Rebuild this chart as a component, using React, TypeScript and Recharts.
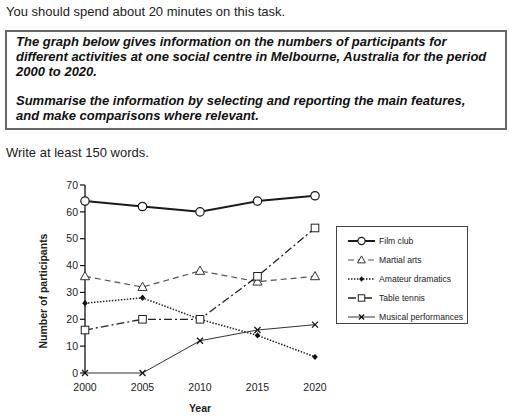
import React from 'react';
import { LineChart, Line, XAxis, YAxis } from 'recharts';

const years = [2000, 2005, 2010, 2015, 2020];
const filmClub = [64, 62, 60, 64, 66];
const martialArts = [36, 32, 38, 34, 36];
const amateurDramatics = [26, 28, 20, 14, 6];
const tableTennis = [16, 20, 20, 36, 54];
const musicalPerformances = [0, 0, 12, 16, 18];
const yTicks = [0, 10, 20, 30, 40, 50, 60, 70];

type Marker = 'circle' | 'triangle' | 'diamond' | 'square' | 'cross';

const series: { key: string; name: string; values: number[]; dash?: string; width: number; color: string; marker: Marker }[] = [
  { key: 'film', name: 'Film club', values: filmClub, width: 2, color: '#1a1a1a', marker: 'circle' },
  { key: 'martial', name: 'Martial arts', values: martialArts, dash: '6 4', width: 1.2, color: '#555', marker: 'triangle' },
  { key: 'drama', name: 'Amateur dramatics', values: amateurDramatics, dash: '1.5 1.5', width: 1.5, color: '#222', marker: 'diamond' },
  { key: 'tennis', name: 'Table tennis', values: tableTennis, dash: '8 3 2 3', width: 1.3, color: '#222', marker: 'square' },
  { key: 'music', name: 'Musical performances', values: musicalPerformances, width: 1, color: '#333', marker: 'cross' },
];

const data = years.map((year, i) => {
  const row: Record<string, number> = { year };
  series.forEach((s) => (row[s.key] = s.values[i]));
  return row;
});

const font = 'Arial, "Liberation Sans", sans-serif';

function drawMarker(type: Marker, cx: number, cy: number, key?: string, scale = 1) {
  const k = scale;
  switch (type) {
    case 'circle':
      return <circle key={key} cx={cx} cy={cy} r={4.2 * k} fill="#fff" stroke="#1a1a1a" strokeWidth={1.2} />;
    case 'triangle':
      return (
        <polygon
          key={key}
          points={`${cx},${cy - 4.8 * k} ${cx - 4.6 * k},${cy + 3.4 * k} ${cx + 4.6 * k},${cy + 3.4 * k}`}
          fill="#fff"
          stroke="#333"
          strokeWidth={1}
        />
      );
    case 'diamond':
      return (
        <polygon
          key={key}
          points={`${cx},${cy - 3.2 * k} ${cx + 2.8 * k},${cy} ${cx},${cy + 3.2 * k} ${cx - 2.8 * k},${cy}`}
          fill="#111"
        />
      );
    case 'square':
      return <rect key={key} x={cx - 3.8 * k} y={cy - 3.8 * k} width={7.6 * k} height={7.6 * k} fill="#fff" stroke="#222" strokeWidth={1} />;
    case 'cross':
      return (
        <g key={key} stroke="#111" strokeWidth={1.3}>
          <line x1={cx - 3 * k} y1={cy - 3 * k} x2={cx + 3 * k} y2={cy + 3 * k} />
          <line x1={cx - 3 * k} y1={cy + 3 * k} x2={cx + 3 * k} y2={cy - 3 * k} />
        </g>
      );
  }
}

const YLabel = (props: any) => {
  const vb = props.viewBox || { x: 0, y: 0, height: 0 };
  const cx = 43;
  const cy = vb.y + vb.height / 2 + 12;
  return (
    <text
      x={cx}
      y={cy}
      transform={`rotate(-90, ${cx}, ${cy})`}
      textAnchor="middle"
      dominantBaseline="central"
      fontFamily={font}
      fontWeight="bold"
      fontSize={10.5}
      fill="#222"
    >
      Number of participants
    </text>
  );
};

const XLabel = (props: any) => {
  const vb = props.viewBox || { x: 0, y: 0, width: 0 };
  return (
    <text x={vb.x + vb.width / 2} y={412} textAnchor="middle" fontFamily={font} fontWeight="bold" fontSize={10.5} fill="#222">
      Year
    </text>
  );
};

const Legend = () => (
  <div
    style={{
      position: 'absolute',
      left: 336,
      top: 226,
      width: 132,
      height: 98,
      border: '1.5px solid #444',
      boxSizing: 'border-box',
      fontFamily: font,
      fontSize: 8.6,
      color: '#222',
    }}
  >
    {series.map((s, i) => (
      <div key={s.key} style={{ position: 'absolute', left: 10, top: 6 + i * 19, height: 16, display: 'flex', alignItems: 'center', whiteSpace: 'nowrap' }}>
        <svg width={29} height={16} style={{ marginRight: 3 }}>
          <line x1={1} y1={8} x2={28} y2={8} stroke={s.color} strokeWidth={s.width} strokeDasharray={s.dash} />
          {drawMarker(s.marker, 14.5, 8, undefined, 0.85)}
        </svg>
        <span>{s.name}</span>
      </div>
    ))}
  </div>
);

export default function App() {
  return (
    <div style={{ position: 'absolute', left: 0, top: 0, width: 512, height: 417, background: '#fff', fontFamily: font, color: '#222' }}>
      <div style={{ position: 'absolute', left: 6, top: 4, fontSize: 13, whiteSpace: 'nowrap' }}>You should spend about 20 minutes on this task.</div>
      <div
        style={{
          position: 'absolute',
          left: 5,
          top: 30,
          width: 502,
          height: 100,
          border: '2px solid #666',
          boxSizing: 'border-box',
          padding: '3px 0 0 9px',
          fontSize: 13,
          lineHeight: '14.8px',
          fontWeight: 'bold',
          fontStyle: 'italic',
          whiteSpace: 'nowrap',
          color: '#111',
        }}
      >
        The graph below gives information on the numbers of participants for
        <br />
        different activities at one social centre in Melbourne, Australia for the period
        <br />
        2000 to 2020.
        <br />
        <br />
        Summarise the information by selecting and reporting the main features,
        <br />
        and make comparisons where relevant.
      </div>
      <div style={{ position: 'absolute', left: 6, top: 145, fontSize: 13, whiteSpace: 'nowrap' }}>Write at least 150 words.</div>

      <div style={{ position: 'absolute', left: 0, top: 0 }}>
        <LineChart width={512} height={417} data={data} margin={{ top: 185, right: 197, left: 40, bottom: 14 }}>
          <XAxis
            dataKey="year"
            type="number"
            domain={[2000, 2020]}
            ticks={years}
            axisLine={false}
            tickLine={false}
            tickMargin={5}
            height={30}
            tick={{ fill: '#222', fontSize: 10.5, fontFamily: font }}
            label={<XLabel />}
          />
          <YAxis
            domain={[0, 70]}
            ticks={yTicks}
            width={45}
            axisLine={{ stroke: '#111', strokeWidth: 1.3 }}
            tickLine={{ stroke: '#111', strokeWidth: 1.2 }}
            tickSize={5}
            tickMargin={2}
            tick={{ fill: '#222', fontSize: 10.5, fontFamily: font }}
            label={<YLabel />}
          />
          {series.map((s) => (
            <Line
              key={s.key}
              dataKey={s.key}
              name={s.name}
              type="linear"
              stroke={s.color}
              strokeWidth={s.width}
              strokeDasharray={s.dash}
              isAnimationActive={false}
              dot={(p: any) => drawMarker(s.marker, p.cx, p.cy, `${s.key}-${p.index}`)}
              activeDot={false}
            />
          ))}
        </LineChart>
      </div>
      <Legend />
    </div>
  );
}
